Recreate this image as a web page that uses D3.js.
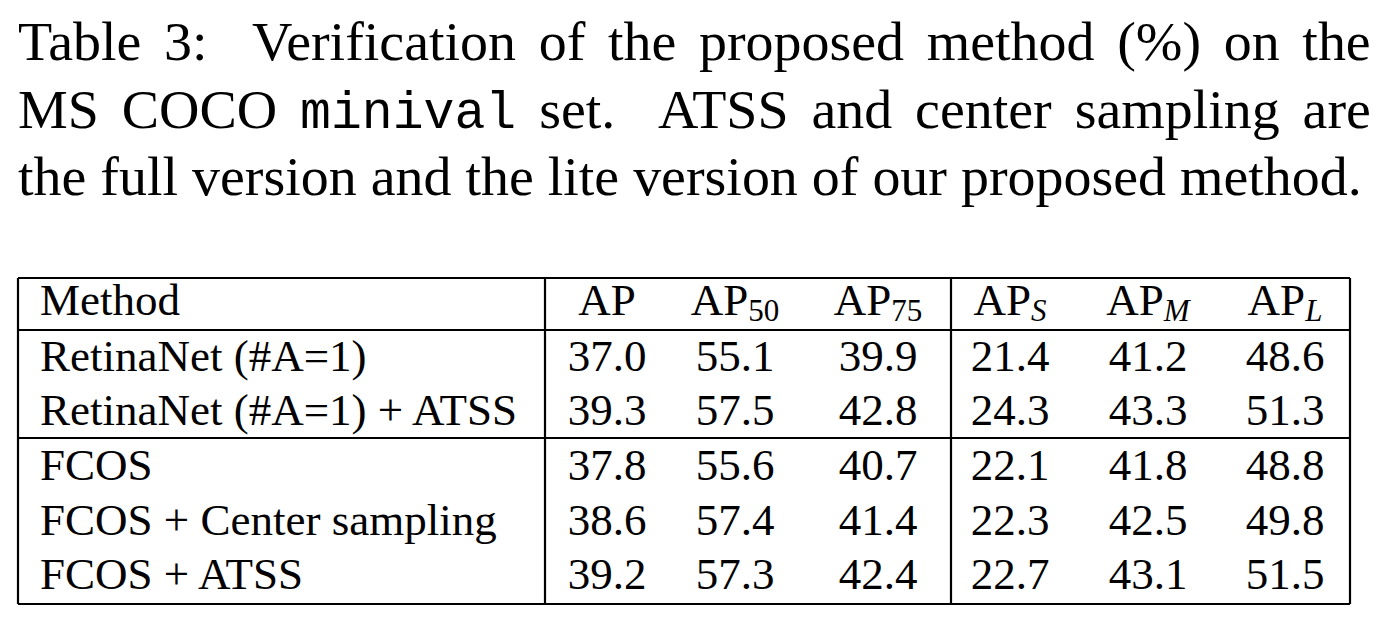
<!DOCTYPE html>
<html><head><meta charset="utf-8">
<script src="https://cdn.jsdelivr.net/npm/d3@7"></script>
<style>body{margin:0;background:#fff}</style></head>
<body><svg id="c" width="1376" height="621"></svg>
<script>
const methods = ["RetinaNet (#A=1)","RetinaNet (#A=1) + ATSS","FCOS","FCOS + Center sampling","FCOS + ATSS"];
const AP   = ["37.0","39.3","37.8","38.6","39.2"];
const AP50 = ["55.1","57.5","55.6","57.4","57.3"];
const AP75 = ["39.9","42.8","40.7","41.4","42.4"];
const APS  = ["21.4","24.3","22.1","22.3","22.7"];
const APM  = ["41.2","43.3","41.8","42.5","43.1"];
const APL  = ["48.6","51.3","48.8","49.8","51.5"];
const headers = [["AP",""],["AP","50"],["AP","75"],["AP","S"],["AP","M"],["AP","L"]];
const cols = [AP,AP50,AP75,APS,APM,APL];
const colX = [607,735,878,1010,1148,1285];

const svg = d3.select("#c");
const F = "'Liberation Serif','Times New Roman',serif";
// caption
const cap = svg.append("g").attr("font-family",F).attr("font-size",50).attr("fill","#000");
const l3 = cap.append("text").attr("x",18).attr("y",195)
  .text("the full version and the lite version of our proposed method.");
const fs = 50*1344/l3.node().getComputedTextLength();
cap.attr("font-size",fs);
const l1 = cap.append("text").attr("x",18).attr("y",60).attr("xml:space","preserve")
  .text("Table 3:  Verification of the proposed method (%) on the");
const l2 = cap.append("text").attr("x",18).attr("y",128).attr("xml:space","preserve");
l2.append("tspan").text("MS COCO ");
l2.append("tspan").attr("font-family","'Liberation Mono','DejaVu Sans Mono',monospace").attr("font-size",fs*0.92).text("minival");
l2.append("tspan").text(" set.  ATSS and center sampling are");
[[l1,9],[l2,8]].forEach(([t,n])=>{
  const w=t.node().getComputedTextLength();
  t.attr("word-spacing",(1344-w)/n);
});

// table
const x0=18,x1=1350,y0=278,y1=604;
const g = svg.append("g").attr("font-family",F).attr("font-size",45).attr("fill","#000");
const line=(a,b,c,d)=>g.append("line").attr("x1",a).attr("y1",b).attr("x2",c).attr("y2",d).attr("stroke","#000").attr("stroke-width",2.2);
line(x0,y0,x1,y0); line(x0,y1,x1,y1); line(x0,y0,x0,y1); line(x1,y0,x1,y1);
line(545,y0,545,y1); line(951,y0,951,y1);
line(x0,330,x1,330); line(x0,438,x1,438);

const rowY = d3.scaleOrdinal().domain(d3.range(5)).range([371,425,480,535,589]);
const hdr = g.selectAll("text.h").data(headers).join("text").attr("class","h")
  .attr("x",(d,i)=>colX[i]).attr("y",315).attr("text-anchor","middle");
hdr.append("tspan").text(d=>d[0]);
hdr.append("tspan").attr("font-size",31).attr("dy",6).attr("font-style",(d,i)=>i>=3?"italic":"normal").text(d=>d[1]);
g.append("text").attr("x",40).attr("y",315).text("Method");
g.selectAll("text.m").data(methods).join("text").attr("class","m").attr("x",40).attr("y",(d,i)=>rowY(i)).text(d=>d);
cols.forEach((col,ci)=>{
  g.selectAll("text.c"+ci).data(col).join("text").attr("class","c"+ci)
   .attr("x",colX[ci]).attr("y",(d,i)=>rowY(i)).attr("text-anchor","middle").text(d=>d);
});
</script></body></html>
